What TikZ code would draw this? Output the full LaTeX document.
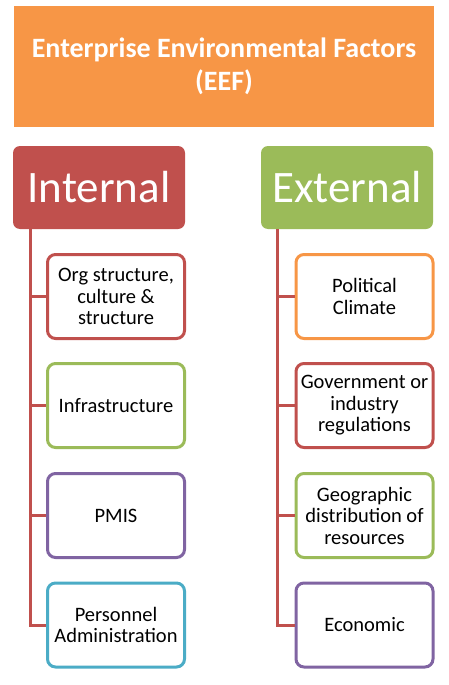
\documentclass[tikz,border=0pt]{standalone}
\usepackage{fontspec}
\setmainfont{Carlito}
\definecolor{eorange}{HTML}{F79646}
\definecolor{ered}{HTML}{C0504D}
\definecolor{egreen}{HTML}{9BBB59}
\definecolor{epurple}{HTML}{8064A2}
\definecolor{ecyan}{HTML}{4BACC6}
\tikzset{
  banner/.style={fill=eorange, draw=none, minimum width=420pt, minimum height=121pt, inner sep=0pt, align=center, text=white, font=\fontsize{28}{33}\selectfont\bfseries},
  head/.style={draw=none, rounded corners=7pt, minimum width=172pt, minimum height=83pt, inner sep=0pt, text=white, font=\fontsize{45}{54}\selectfont},
  item/.style={draw=#1, fill=white, line width=3pt, rounded corners=8pt, minimum width=137pt, minimum height=84pt, inner sep=0pt, align=center, font=\fontsize{20.5}{21.5}\selectfont},
  trunk/.style={draw=ered, line width=3pt},
}
\begin{document}
\begin{tikzpicture}[x=1pt,y=1pt]
\useasboundingbox (0,0) rectangle (449,-685);
\node[banner] (eef) at (224,-66.5) {Enterprise Environmental Factors\\(EEF)};
\node[head, fill=ered] (int) at (99,-187.5) {Internal};
\node[head, fill=egreen] (ext) at (347,-187.5) {External};
\coordinate (lt) at (30,-229);
\coordinate (rt) at (277,-229);
\node[item=ered] (i1) at (116,-296.5) {Org structure,\\culture \&\\structure};
\node[item=egreen] (i2) at (116,-405.5) {Infrastructure};
\node[item=epurple] (i3) at (116,-515.5) {PMIS};
\node[item=ecyan] (i4) at (116,-625) {Personnel\\Administration};
\node[item=eorange] (e1) at (364.5,-296.5) {Political\\Climate};
\node[item=ered] (e2) at (364.5,-405.5) {Government or\\industry\\regulations};
\node[item=egreen] (e3) at (364.5,-515.5) {Geographic\\distribution of\\resources};
\node[item=epurple] (e4) at (364.5,-625) {Economic};
\draw[trunk] (lt) |- (i4.west);
\draw[trunk] (lt) |- (i1.west);
\draw[trunk] (lt) |- (i2.west);
\draw[trunk] (lt) |- (i3.west);
\draw[trunk] (rt) |- (e4.west);
\draw[trunk] (rt) |- (e1.west);
\draw[trunk] (rt) |- (e2.west);
\draw[trunk] (rt) |- (e3.west);
\end{tikzpicture}
\end{document}
